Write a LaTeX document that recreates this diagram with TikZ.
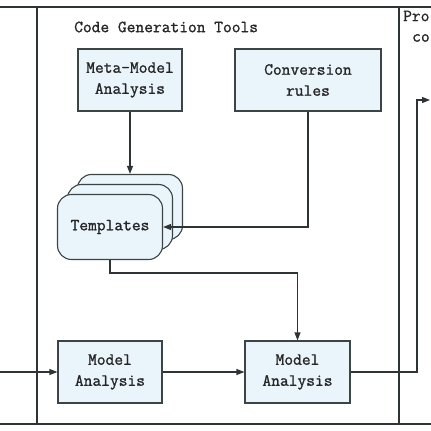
\documentclass[tikz,border=0pt]{standalone}
\usepackage{fontspec}
\setmonofont{Latin Modern Mono}[FakeBold=1.2]
\usetikzlibrary{arrows.meta}
\definecolor{boxfill}{HTML}{EAF4FB}
\definecolor{boxline}{HTML}{3C4446}
\definecolor{lin}{HTML}{2E3436}
\begin{document}
\begin{tikzpicture}[x=1pt,y=-1pt,
  txt/.style={font=\ttfamily\fontsize{17}{21}\selectfont, text=black!85},
  box/.style={txt, draw=boxline, fill=boxfill, line width=1.1pt, align=center, inner sep=0pt},
  tbox/.style={box, rounded corners=14pt, minimum width=105pt, minimum height=65pt},
  frame/.style={draw=lin, line width=1.1pt},
  arr/.style={draw=lin, line width=1.1pt, -{Triangle[length=8pt,width=6pt]}},
  con/.style={draw=lin, line width=1.1pt}]
\useasboundingbox (0,0) rectangle (431,431);
% frame lines
\coordinate (tl) at (0,7); \coordinate (tr) at (431,7);
\coordinate (bl) at (0,424); \coordinate (br) at (431,424);
\coordinate (l1t) at (37,7); \coordinate (l1b) at (37,424);
\coordinate (l2t) at (399,7); \coordinate (l2b) at (399,424);
\draw[frame] (tl) -- (tr);
\draw[frame] (bl) -- (br);
\draw[frame] (l1t) -- (l1b);
\draw[frame] (l2t) -- (l2b);
% titles
\node[txt, anchor=west, inner sep=0] (title) at (74,27) {Code Generation Tools};
\node[txt, anchor=west, inner sep=0] (pro) at (403,16) {Pro};
\node[txt, anchor=west, inner sep=0] (co) at (412,38) {co};
% boxes
\node[box, minimum width=104pt, minimum height=62pt] (meta) at (130,80) {Meta-Model\\Analysis};
\node[box, minimum width=146pt, minimum height=62pt] (conv) at (308,80) {Conversion\\rules};
\node[tbox] (back) at (130,207) {};
\node[tbox] (mid) at (120,217) {};
\node[tbox] (front) at (110,227) {Templates};
\node[box, minimum width=104pt, minimum height=62pt] (ma1) at (110,372) {Model\\Analysis};
\node[box, minimum width=105pt, minimum height=62pt] (ma2) at (297.5,372) {Model\\Analysis};
% connectors
\draw[arr] (meta.south) -- (back.north);
\draw[arr] (conv.south) |- (front.east);
\coordinate (tbend) at (110,273);
\draw[arr] (front.south) -- (tbend) -| (ma2.north);
\coordinate (inl) at (0,372);
\draw[arr] (inl) -- (ma1.west);
\draw[arr] (ma1.east) -- (ma2.west);
\coordinate (rb) at (417,372);
\coordinate (rt) at (417,100);
\coordinate (rend) at (430,100);
\draw[arr] (ma2.east) -- (rb) -- (rt) -- (rend);
\end{tikzpicture}
\end{document}
